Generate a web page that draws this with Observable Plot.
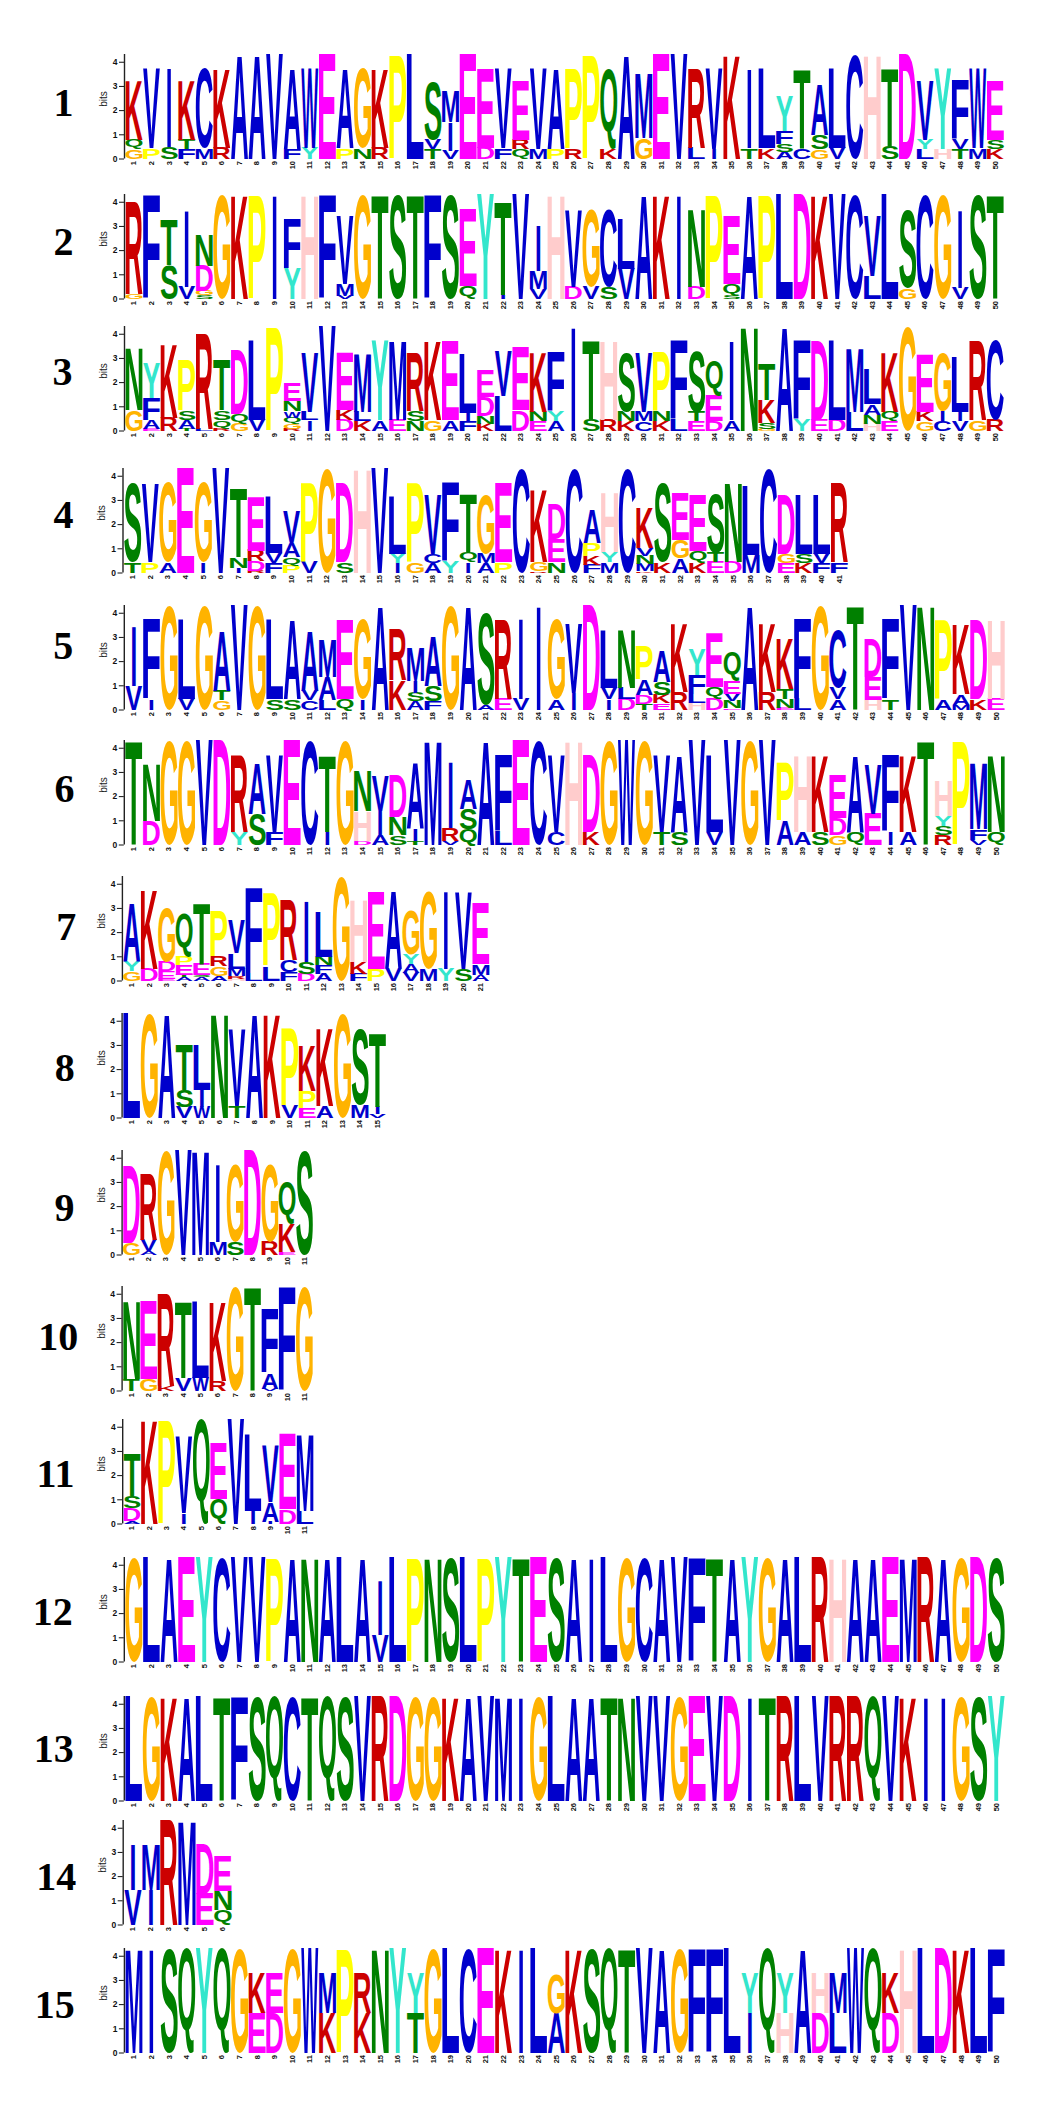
<!DOCTYPE html>
<html>
<head>
<meta charset="utf-8">
<script src="https://cdn.jsdelivr.net/npm/d3@7"></script>
<script src="https://cdn.jsdelivr.net/npm/@observablehq/plot@0.6"></script>
<style>
html,body{margin:0;padding:0;background:#fff}
#page{position:relative;width:1043px;height:2111px;overflow:hidden;background:#fff}
#page svg{position:absolute;left:0;background:transparent}
</style>
</head>
<body>
<div id="page"></div>
<script>
// Each column is read bottom to top: letter followed by its height in bits.
const logo1 = ["G.4 Q.4 K2.45","P.45 V3.3","S.48 I3.3","F.4 T.4 K2.45","M.45 C3.3","R.45 K3.3","A4.32","A4.32","V4.32","F.42 A3.33","Y.45 W3.3","E4.32","P.45 A3.3","N.45 G3.3","R.45 K3.3","P4.32","L4.32","T.4 V.4 S2.4","V.35 I1.2 M1.3","E4.32","D.45 E3.3","F.45 V3.3","Q.4 R.4 E2.45","M.42 V3.33","P.42 A3.33","R.42 P3.33","P4.32","K.42 Q3.33","A4.32","G.85 M2.68","E4.32","V4.32","L.45 R3.3","I.4 V3.33","K4.32","T.45 I3.3","K.45 L3.3","A.3 S.3 F.55 Y1.4","C.45 T3.3","G.4 S.6 A2.1","V.45 L3.3","C4.32","H4.32","S.55 T3.2","D4.32","L.4 Y.4 V2.45","H.42 Y3.33","T.4 V.4 F2.45","M.45 W3.3","K.4 S.4 E2.45"];
const logo2 = ["G.2 R3.8","F4.32","S1.4 T1.9","V.5 I3.18","S.15 G.2 D1.03 N1.3","G4.32","K4.32","P4.32","I4.32","Y1.25 F2.05","H4.32","F4.32","V.13 M.5 V2.8","G4.32","T4.32","S4.32","T4.32","F4.32","S4.32","Q.55 E3.15","Y4.32","I.15 T3.85","V4.32","V.4 M.75 I1.85","H4.32","D.5 V3.2","V.5 G3.2","S.5 C3.2","V1.25 L2.08","A4.32","K4.32","I4.32","D.5 N3.2","P4.32","S.15 Q.45 E2.8","A4.32","P4.32","L4.32","D4.32","K4.32","V4.32","C4.32","L.95 V2.5","L4.32","G.45 S3.2","C4.32","G4.32","V.45 I3.2","S4.32","T4.32"];
const logo3 = ["G.87 N2.6","E.1 A.35 F.9 Y1.4","R.55 K3.08","T.1 A.35 S.4 P2.1","L.1 R3.93","R.1 Q.35 S.4 T2.1","G.3 Q.4 D2.65","V.45 L3.3","P4.32","R.08 G.22 Q.25 W.28 N.4 E.75","I.45 L.35 V2.45","V4.32","D.45 K.4 E2.4","K.4 L.4 M2.4","A.45 Y3.3","E.45 M3.3","N.42 S.42 R2.4","G.45 K3.3","A.45 E3.3","F.4 I.35 L2.45","K.3 N.3 D.8 E1.1","L1.45 V1.85","D.85 E2.6","E.4 N.4 K2.45","A.4 Y.4 F2.45","I4.32","S.5 T3.25","R.45 H3.3","K.4 N.4 S2.45","C.4 M.4 V2.45","K.4 N.4 P2.45","L.45 F3.3","E.4 T.4 S2.5","D.4 E1.05 Q1.45","A.45 I3.3","N4.32","G.08 S.25 K.95 T1.5","A4.32","Y.45 F3.3","E.45 D3.3","D.45 L3.3","L.8 M2.65","H.3 N.35 A.45 L1.45","E.4 Q.4 K2.45","G4.32","G.4 K.4 E2.4","C.42 I.4 G2.4","V.4 I.4 L2.27","G.45 R3.3","R.45 C3.3"];
const logo4 = ["T.45 S3.25","P.45 V3.25","A.45 G3.3","E4.32","I.45 G3.3","V4.32","I.2 N.45 T2.85","R.08 D.4 R.45 E2.2","F.42 V.42 L2.35","P.3 Q.35 A.6 V1.3","V.45 P3.3","G4.32","S.45 D3.3","H4.32","V4.32","I.4 Y.4 L2.4","G.45 P3.3","A.4 C.4 V2.45","Y.45 F3.3","I.45 Q.4 T2.4","A.4 M.4 G2.45","P.45 E3.3","C4.32","R.07 G.4 K2.98","N.45 E.95 D1.45","C4.32","F.35 K.35 P.55 A1.4","M.45 Y.4 H2.45","C4.32","K.07 M.3 N.35 V.3 K1.65","K.45 S3.25","A.6 G.75 E1.95","K.45 Q.45 E2.35","E.45 T.4 S2.45","D.45 N3.3","M.75 L2.85","C4.32","E.4 G.4 D2.45","K.4 S.4 L2.45","F.4 V.4 L2.45","F.45 R3.3"];
const logo5 = ["V1 I2.45","I.45 F3.3","G4.32","V.45 L3.3","G4.32","G.4 T.4 A2.45","V4.32","G4.32","S.45 L3.3","S.45 A3.3","C.4 V.4 A2.45","L.4 A.95 M1.55","Q.45 E3.3","I.45 G3.3","A4.32","K1.25 R2.1","A.35 S.35 I.5 M1.4","F.35 S.65 A2.05","G4.32","A4.32","A.2 S3.83","E.45 R3.3","V.45 I3.3","I4.32","A.45 G3.3","I.7 V2.85","D4.32","I.45 V.45 L2.4","D.45 L.45 N2.4","T.25 D.35 A.65 P1.4","E.27 K.35 S.55 A1.3","R.75 K2.85","H.3 L.35 F.8 Y1.05","D.45 Q.5 E2.2","E.07 N.3 V.3 E.55 Q1.15","A4.32","R.75 K2.85","E.1 N.35 T.4 K2.1","L.45 F3.3","G4.32","A.45 V.45 C2.4","T4.32","H.4 E.95 D1.6","T.45 F3.3","V4.32","N4.32","A.45 P3.3","M.2 A.45 K2.9","K.45 D3.3","E.45 H3.3"];
const logo6 = ["T4.32","D1 N2.35","G4.32","G4.32","V4.32","D4.32","Y.55 R3.15","S1.3 A2.1","F.55 V3.15","E4.32","C4.32","I.55 T3.15","G4.32","D.15 H1.25 N1.65","A.4 I1 V1.45","S.4 N.75 D1.75","T.15 I.5 A2.75","M4.32","V.15 R.55 I2.75","Q.65 S.85 A1.25","A4.32","L.55 F3.15","E4.32","C4.32","C.55 V3.15","H4.32","K.55 D3.15","G4.32","W4.32","G4.32","T.55 V3.15","S.55 A3.15","V4.32","V.55 L3.15","V4.32","G4.32","V4.32","A1 P2.4","A.55 H3.15","S.55 K3.15","G.4 D.7 E1.8","Q.55 A3.15","E1.3 V2","I.55 F3.15","A.55 K3.15","T4.32","R.4 S.4 Y.4 H1.45","P4.32","V.2 F.45 M2.75","Q.55 N3.15"];
const logo7 = ["G.4 Y.4 A2.4","D.5 K3.25","E.1 E.3 D.4 G2.25","A.15 T.1 E.4 P.35 Q1.8","A.15 S.1 E.45 T2.5","A.2 G.4 R.4 P1.85","H.1 R.1 M.3 L.65 V1.35","L.3 F3.55","L.6 P3","F.35 C.5 R2.5","D.3 S.5 I2.5","A.3 F.35 N.35 L1.85","G4.32","F.3 K.5 H2.55","P.5 E3.2","V.5 A3.2","V.35 A.35 Y.4 G1.85","M.5 G3.2","Y.5 I3.2","S.5 V3.2","A.25 M.45 E2.55"];
const logo8 = ["L4.32","G4.32","A4.32","V.45 S.7 T1.85","W.45 I.7 L1.85","N4.32","T.5 V3.2","A4.32","K4.32","V.5 P3.2","E.4 P.7 K1.85","A.5 K3.2","G4.32","M.55 S3.15","V.15 I.3 T3.05"];
const logo9 = ["G.5 D3.2","A.15 V.45 R2.75","G4.32","V4.32","M4.32","M.55 I3.2","S.55 G3.2","D4.32","R.55 G3.2","E.12 K1.2 Q1.75","S4.32"];
const logo10 = ["T.5 N3.2","G.5 E3.2","K.2 R3.8","V.55 T3.15","W.55 L3.15","R.4 K3.3","G4.32","T4.32","V.1 A.65 F2.65","F4.32","G4.32"];
const logo11 = ["A.12 D.53 S.5 T1.75","K4.32","P4.32","I.45 V3.2","Q4.32","Q1.05 E2.35","V4.32","I.55 L3.15","I.1 A.8 V2.3","D.6 E3.1","L.55 M3.15"];
const logo12 = ["G4.32","L4.32","A4.32","E4.32","Y4.32","C4.32","V4.32","V4.32","P4.32","A4.32","N4.32","A4.32","L4.32","A4.32","V1.1 I2.25","L4.32","P4.32","N4.32","S4.32","L4.32","P4.32","Y4.32","T4.32","E4.32","S4.32","A4.32","I4.32","L4.32","G4.32","C4.32","A4.32","V4.32","F4.32","T4.32","A4.32","Y4.32","G4.32","A4.32","L4.32","R4.32","H4.32","A4.32","A4.32","E4.32","M4.32","R4.32","A4.32","G4.32","D4.32","S4.32"];
const logo13 = ["L4.32","G4.32","K4.32","A4.32","L4.32","T4.32","F4.32","S4.32","Q4.32","C4.32","T4.32","Q4.32","S4.32","V4.32","R4.32","D4.32","G4.32","G4.32","K4.32","A4.32","V4.32","M4.32","I4.32","G4.32","L4.32","A4.32","A4.32","T4.32","N4.32","V4.32","V4.32","G4.32","E4.32","V4.32","D4.32","I4.32","T4.32","R4.32","L4.32","V4.32","R4.32","R4.32","Q4.32","V4.32","K4.32","I4.32","I4.32","G4.32","S4.32","Y4.32"];
const logo14 = ["V1.45 I1.85","I1.45 M1.85","R4.32","M4.32","E1.3 D2.05","Q.6 N.8 E1.4"];
const logo15 = ["M4.32","I4.32","S4.32","Q4.32","Y4.32","Q4.32","G4.32","E1.65 K1.65","D1.65 E1.65","G4.32","W4.32","K1.65 M1.65","P4.32","K1.65 R1.65","N4.32","Y4.32","T1.65 Y1.65","G4.32","L4.32","C4.32","E4.32","K4.32","I4.32","L4.32","A1.65 G1.65","K4.32","S4.32","Q4.32","T4.32","V4.32","A4.32","G4.32","F4.32","F4.32","L4.32","I1.65 Y1.65","Q4.32","H1.65 Y1.65","A4.32","D1.65 H1.65","L1.65 M1.65","W4.32","Q4.32","D1.65 K1.65","H4.32","L4.32","D4.32","K4.32","L4.32","F4.32"];
const logos = [logo1,logo2,logo3,logo4,logo5,logo6,logo7,logo8,logo9,logo10,logo11,logo12,logo13,logo14,logo15];
const rowLabels = ["1","2","3","4","5","6","7","8","9","10","11","12","13","14","15"];
const yTicks = [0,1,2,3,4];
const maxBits = 4.32;
const letters = ["A","C","F","I","L","M","V","W","K","R","N","Q","S","T","G","H","D","E","P","Y"];
const letterColors = ["#0000cc","#0000cc","#0000cc","#0000cc","#0000cc","#0000cc","#0000cc","#0000cc","#cc0000","#cc0000","#008000","#008000","#008000","#008000","#ffb300","#ffcccc","#ff00ff","#ff00ff","#ffff00","#33e6cc"];

// Page geometry of each panel: left edge of column 1, column width, baseline y, label centre x and y.
const panelLeft  = [124.7,124.7,124.7,123.2,124.5,124.5,122.6,122.3,122.3,122.3,122.9,124.5,124.5,123.4,124.6];
const panelCol   = [17.58,17.58,17.58,17.67,17.6,17.6,17.45,17.57,17.3,17.3,17.3,17.6,17.6,18,17.6];
const panelBase  = [158.3,298,430.7,572.3,709,844,980.7,1117.3,1254,1390,1523.3,1661.7,1800,1924,2052.7];
const labelX     = [63,63,62,63,62.7,64,65.7,64.3,64,57.7,55,52.3,53.3,55.7,54.3];
const labelY     = [102.7,240.7,371.7,514,645,788,926.7,1067,1206.7,1336,1473,1612,1748,1875.7,2005];

const panelHeight = 104.5, padTop = 8, padBottom = 14, pageWidth = 1043;
const letterFont = '"Liberation Sans", Arial, sans-serif';

const probe = document.createElement("canvas").getContext("2d");
probe.font = `bold 100px ${letterFont}`;
const ink = {};
for (const l of letters) {
  const m = probe.measureText(l);
  ink[l] = {left: -m.actualBoundingBoxLeft, width: m.actualBoundingBoxRight + m.actualBoundingBoxLeft, up: m.actualBoundingBoxAscent, down: m.actualBoundingBoxDescent};
}

function stack(logo) {
  const rows = [];
  logo.forEach((col, c) => {
    let y = 0;
    for (const part of col.split(" ")) {
      const h = +part.slice(1);
      rows.push({pos: c + 1, letter: part[0], y0: y, y1: y + h});
      y += h;
    }
  });
  return rows;
}

function stretchToCell(rows, colWidth) {
  return function (index, scales, values, dims, ctx, next) {
    const g = next(index, scales, values, dims, ctx);
    const nodes = g.querySelectorAll("text");
    index.forEach((i, k) => {
      const r = rows[i], box = ink[r.letter], t = nodes[k];
      const bottom = scales.y(r.y0), top = scales.y(r.y1);
      const cx = scales.x(r.pos);
      const w = colWidth * (r.letter === "I" ? 0.22 : 0.97);
      const sx = w / box.width, sy = (bottom - top) / (box.up + box.down);
      t.removeAttribute("y");
      t.removeAttribute("dy");
      t.setAttribute("transform", `translate(${cx - (box.left + box.width / 2) * sx},${bottom - box.down * sy}) scale(${sx},${sy})`);
    });
    return g;
  };
}

const page = document.getElementById("page");
logos.forEach((logo, p) => {
  const n = logo.length;
  const rows = stack(logo);
  const svgTop = panelBase[p] - panelHeight - padTop;
  const marginLeft = panelLeft[p];
  const chart = Plot.plot({
    width: pageWidth,
    height: panelHeight + padTop + padBottom,
    marginTop: padTop,
    marginBottom: padBottom,
    marginLeft,
    marginRight: pageWidth - marginLeft - n * panelCol[p],
    x: {domain: [0.5, n + 0.5]},
    y: {domain: [0, maxBits]},
    color: {domain: letters, range: letterColors},
    marks: [
      Plot.axisY({ticks: yTicks, tickFormat: "d", label: null, tickSize: 5, tickPadding: 2, fontSize: 8.5, fontWeight: "bold", fontFamily: letterFont, color: "#111", dx: -0.7}),
      Plot.axisX({ticks: d3.range(1, n + 1), tickFormat: "d", label: null, tickRotate: -90, tickSize: 0, tickPadding: 2, fontSize: 7.5, fontWeight: "bold", fontFamily: letterFont, color: "#111"}),
      Plot.ruleX([0.5], {stroke: "#222", strokeWidth: 1.4, dx: -0.7}),
      Plot.text(["bits"], {frameAnchor: "left", dx: -21.5, rotate: -90, fontSize: 10, fontFamily: letterFont, fill: "#222"}),
      Plot.text(rows, {
        x: "pos", y: "y0", text: "letter", fill: "letter",
        fontSize: 100, fontWeight: "bold", fontFamily: letterFont, textAnchor: "start",
        render: stretchToCell(rows, panelCol[p])
      }),
      Plot.text([rowLabels[p]], {
        frameAnchor: "top-left",
        dx: labelX[p] - marginLeft,
        dy: labelY[p] - svgTop - padTop,
        fontSize: 40, fontWeight: "bold", fontFamily: '"Liberation Serif", "Times New Roman", serif',
        fill: "#000", textAnchor: "middle", lineAnchor: "middle"
      })
    ]
  });
  chart.style.top = `${svgTop}px`;
  page.appendChild(chart);
});
</script>
</body>
</html>
